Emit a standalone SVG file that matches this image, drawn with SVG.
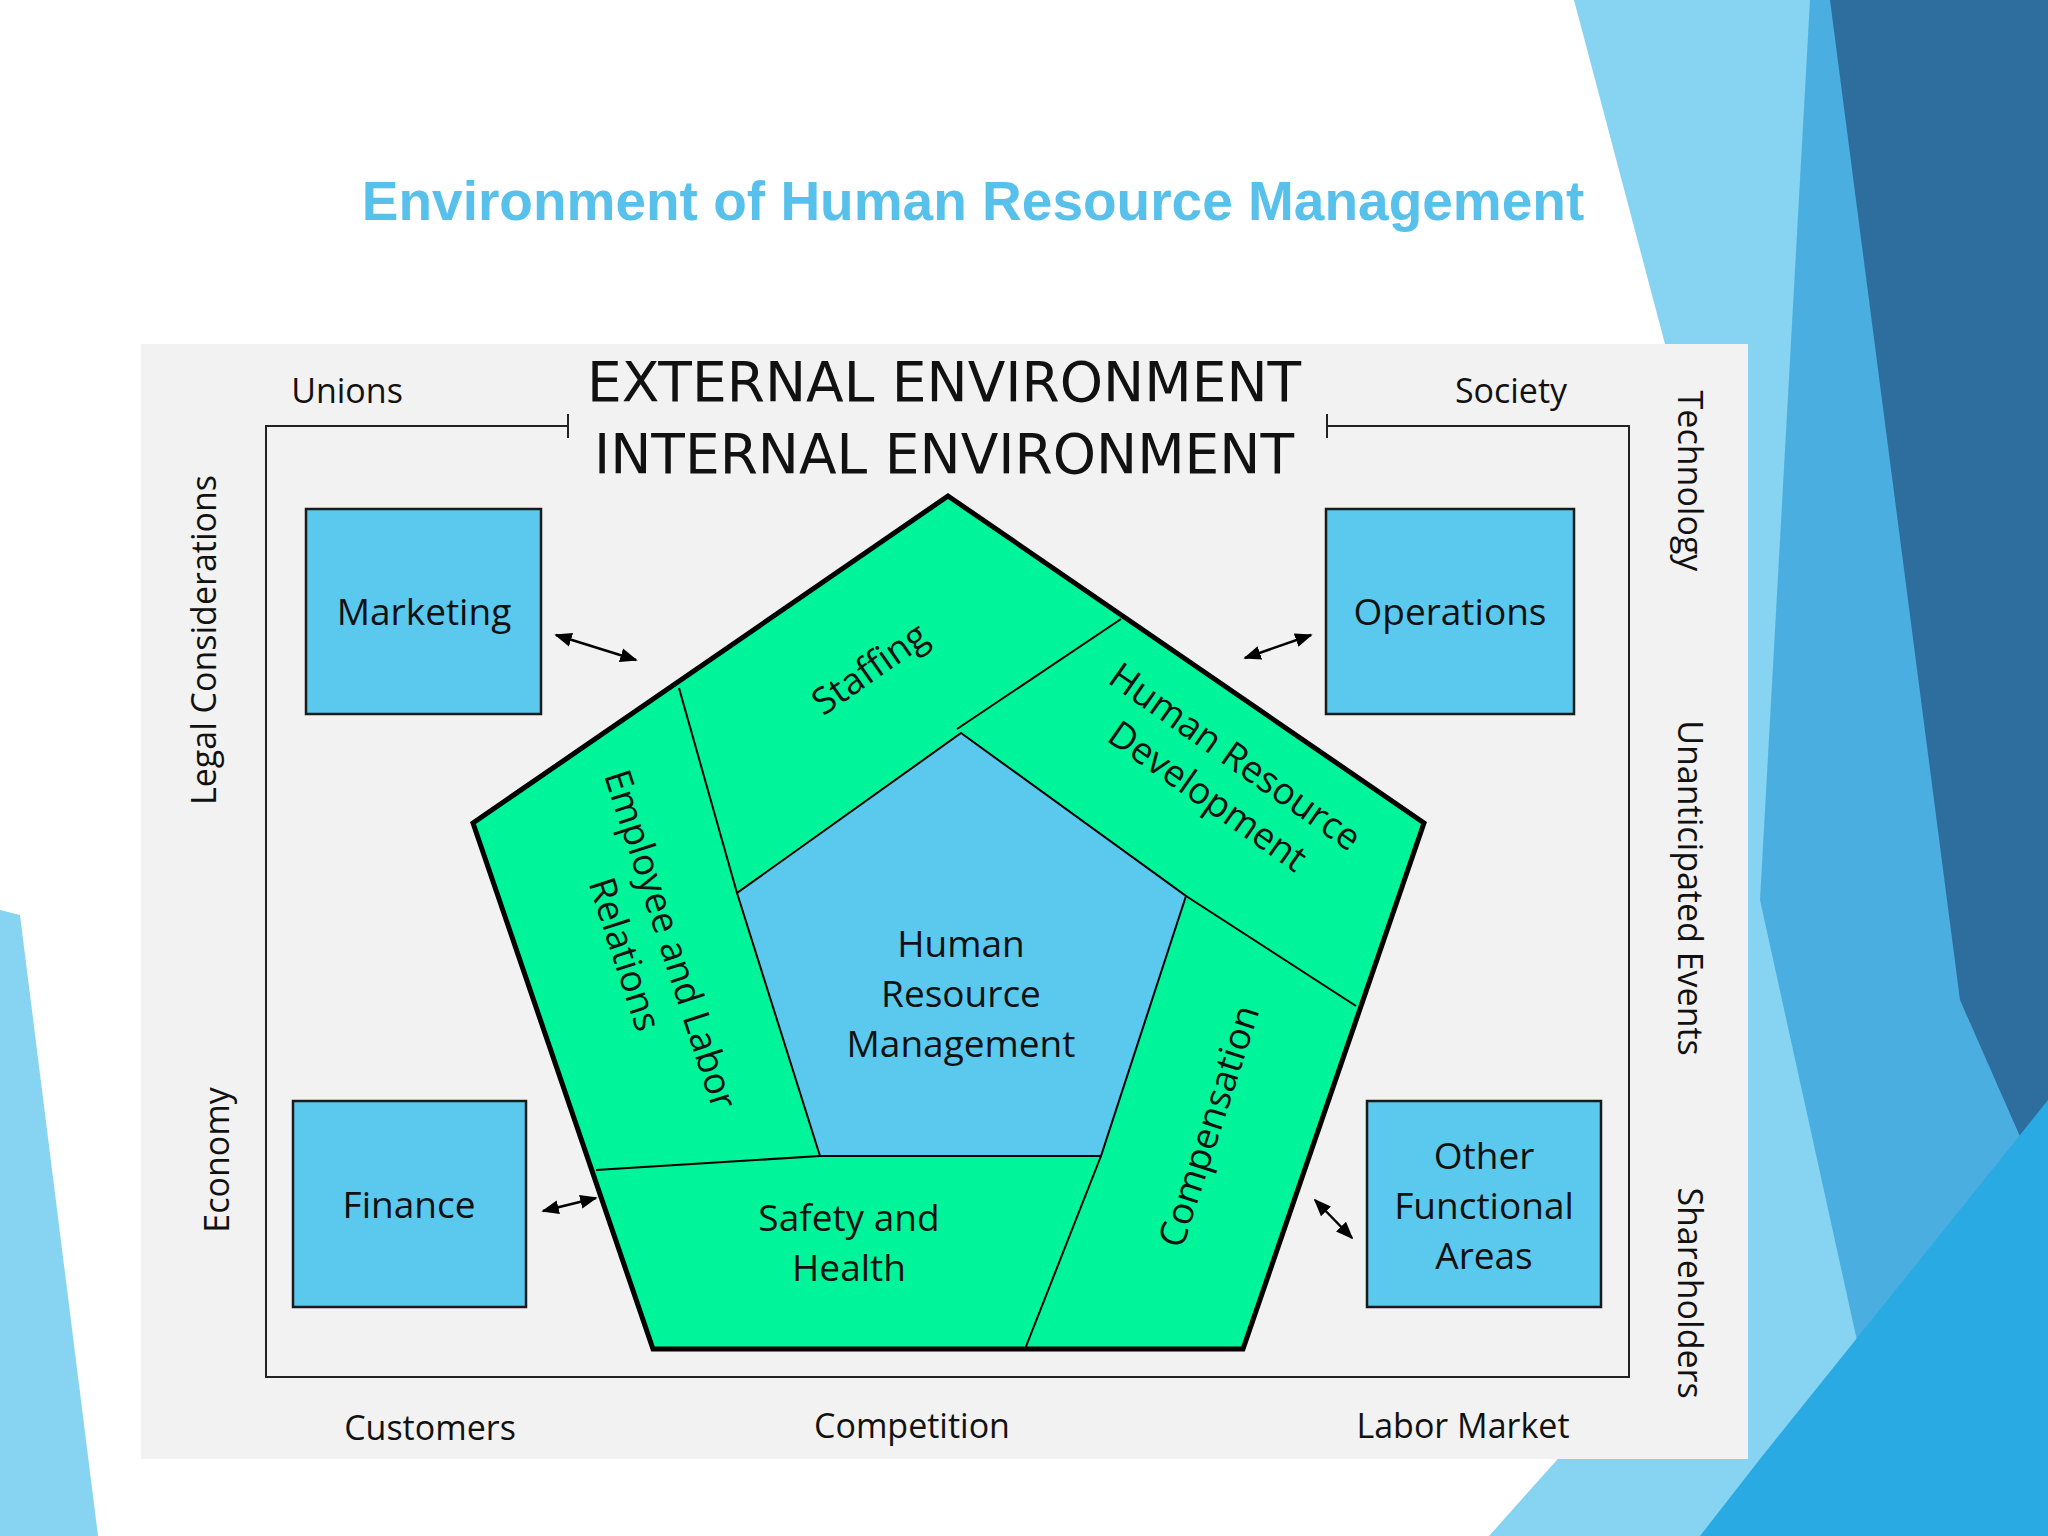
<svg xmlns="http://www.w3.org/2000/svg" width="2048" height="1536" viewBox="0 0 2048 1536">
<defs>
<marker id="ah" viewBox="0 0 10 10" refX="9" refY="5" markerWidth="7" markerHeight="7" orient="auto-start-reverse"><path d="M0,1 L10,5 L0,9 z" fill="#000"/></marker>
<style>
.t{font-family:"Open Sans","Liberation Sans",sans-serif;fill:#111;}
.env{font-size:34px;}
.big{font-size:55px;font-family:"DejaVu Sans","Liberation Sans",sans-serif;fill:#111;}
.lab{font-size:37px;}
.box{fill:#5BC8EE;stroke:#1a1a1a;stroke-width:2.5;}
.ar{stroke:#000;stroke-width:2.5;marker-start:url(#ah);marker-end:url(#ah);}
.dv{stroke:#000;stroke-width:2;}
</style>
</defs>
<rect width="2048" height="1536" fill="#fff"/>
<g id="background">
<polygon points="1574,0 2048,0 2048,1536 1489,1536 1700,1300 1665,344" fill="#86d3f2"/>
<polygon points="1810,0 2048,0 2048,1536 1900,1536 1760,900" fill="#4aaee0"/>
<polygon points="1830,0 2048,0 2048,1200 1960,1000" fill="#2d6e9e"/>
<polygon points="1760,1459 2048,1100 2048,1536 1700,1536" fill="#2aaae2"/>
<polygon points="0,910 20,915 98,1536 0,1536" fill="#86d3f2"/>
</g>
<text x="973" y="220" text-anchor="middle" font-family="Liberation Sans,Arial,sans-serif" font-weight="bold" font-size="55" fill="#57C1EC">Environment of Human Resource Management</text>
<rect x="141" y="344" width="1607" height="1115" fill="#f2f2f2"/>
<g id="frame" fill="none" stroke="#222" stroke-width="2">
<polyline points="568,426 266,426 266,1377 1629,1377 1629,426 1327,426"/>
<line x1="568" y1="414" x2="568" y2="438"/><line x1="1327" y1="414" x2="1327" y2="438"/>
</g>
<text class="big" x="944" y="401" text-anchor="middle">EXTERNAL ENVIRONMENT</text>
<text class="big" x="944" y="473" text-anchor="middle">INTERNAL ENVIRONMENT</text>
<g class="t env">
<text x="347" y="403" text-anchor="middle">Unions</text>
<text x="1511" y="403" text-anchor="middle">Society</text>
<text x="430" y="1440" text-anchor="middle">Customers</text>
<text x="912" y="1438" text-anchor="middle">Competition</text>
<text x="1463" y="1438" text-anchor="middle">Labor Market</text>
<text transform="translate(1678,481) rotate(90)" text-anchor="middle">Technology</text>
<text transform="translate(1678,888) rotate(90)" text-anchor="middle">Unanticipated Events</text>
<text transform="translate(1678,1293) rotate(90)" text-anchor="middle">Shareholders</text>
<text transform="translate(216,640) rotate(-90)" text-anchor="middle">Legal Considerations</text>
<text transform="translate(229,1160) rotate(-90)" text-anchor="middle">Economy</text>
</g>
<g id="pentagon">
<polygon points="948,496 1424,823 1243,1349 653,1349 473,823" fill="#00F59A" stroke="#000" stroke-width="5"/>
<polygon points="961,733 1186,896 1101,1156 820,1156 737,893" fill="#5BC8EE" stroke="#000" stroke-width="2"/>
<line class="dv" x1="1121" y1="619" x2="957" y2="729"/>
<line class="dv" x1="1186" y1="896" x2="1356" y2="1006"/>
<line class="dv" x1="1101" y1="1156" x2="1025" y2="1349"/>
<line class="dv" x1="820" y1="1156" x2="596" y2="1170"/>
<line class="dv" x1="737" y1="893" x2="679" y2="688"/>
</g>
<g class="t lab">
<text transform="translate(877,679) rotate(-35)" text-anchor="middle">Staffing</text>
<text transform="translate(1221,777) rotate(35)" text-anchor="middle"><tspan x="0" y="-12">Human Resource</tspan><tspan x="0" y="36">Development</tspan></text>
<text transform="translate(1221,1130) rotate(-72)" text-anchor="middle">Compensation</text>
<text x="849" y="1231" text-anchor="middle">Safety and</text>
<text x="849" y="1281" text-anchor="middle">Health</text>
<text transform="translate(647,947) rotate(72)" text-anchor="middle"><tspan x="0" y="-12">Employee and Labor</tspan><tspan x="0" y="36">Relations</tspan></text>
<text x="961" y="957" text-anchor="middle">Human</text>
<text x="961" y="1007" text-anchor="middle">Resource</text>
<text x="961" y="1057" text-anchor="middle">Management</text>
</g>
<g id="marketing"><rect class="box" x="306" y="509" width="235" height="205"/><text class="t lab" x="424" y="625" text-anchor="middle">Marketing</text></g>
<g id="operations"><rect class="box" x="1326" y="509" width="248" height="205"/><text class="t lab" x="1450" y="625" text-anchor="middle">Operations</text></g>
<g id="finance"><rect class="box" x="293" y="1101" width="233" height="206"/><text class="t lab" x="409" y="1218" text-anchor="middle">Finance</text></g>
<g id="other"><rect class="box" x="1367" y="1101" width="234" height="206"/><text class="t lab" x="1484" y="1169" text-anchor="middle">Other</text><text class="t lab" x="1484" y="1219" text-anchor="middle">Functional</text><text class="t lab" x="1484" y="1269" text-anchor="middle">Areas</text></g>
<g id="connectors">
<line class="ar" x1="556" y1="635" x2="636" y2="660"/>
<line class="ar" x1="1245" y1="658" x2="1311" y2="635"/>
<line class="ar" x1="543" y1="1211" x2="596" y2="1198"/>
<line class="ar" x1="1315" y1="1200" x2="1352" y2="1238"/>
</g>
</svg>
